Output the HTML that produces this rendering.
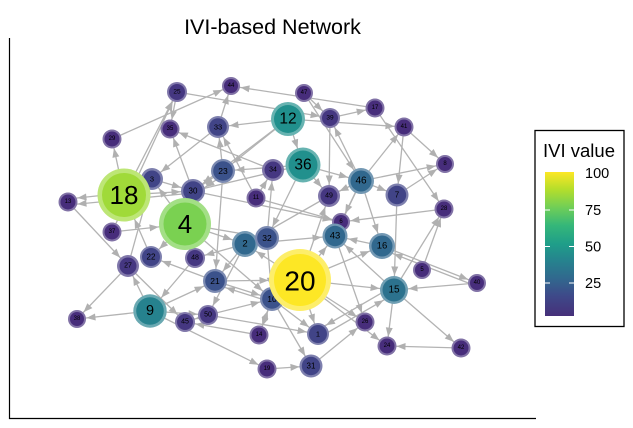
<!DOCTYPE html>
<html><head><meta charset="utf-8"><style>
html,body{margin:0;padding:0;background:#fff;}
svg{display:block;}
text{font-family:"Liberation Sans",Arial,sans-serif;}
.n text{text-anchor:middle;dominant-baseline:central;fill:#000;}
.e path{stroke:#b3b3b3;stroke-width:1.3;fill:none;}
.a9{marker-end:url(#m9)}.a10{marker-end:url(#m10)}.a11{marker-end:url(#m11)}.a12{marker-end:url(#m12)}.a13{marker-end:url(#m13)}.a14{marker-end:url(#m14)}.a17{marker-end:url(#m17)}.a26{marker-end:url(#m26)}.a31{marker-end:url(#m31)}
</style></head><body>
<svg width="633" height="428" viewBox="0 0 633 428" xmlns="http://www.w3.org/2000/svg">
<defs>
<marker id="m9" markerUnits="userSpaceOnUse" markerWidth="60" markerHeight="8" refX="18.5" refY="3.5" orient="auto" overflow="visible"><path d="M0 0L9 3.5L0 7z" fill="#b0b0b0"/></marker>
<marker id="m10" markerUnits="userSpaceOnUse" markerWidth="60" markerHeight="8" refX="19.5" refY="3.5" orient="auto" overflow="visible"><path d="M0 0L9 3.5L0 7z" fill="#b0b0b0"/></marker>
<marker id="m11" markerUnits="userSpaceOnUse" markerWidth="60" markerHeight="8" refX="20.5" refY="3.5" orient="auto" overflow="visible"><path d="M0 0L9 3.5L0 7z" fill="#b0b0b0"/></marker>
<marker id="m12" markerUnits="userSpaceOnUse" markerWidth="60" markerHeight="8" refX="21.5" refY="3.5" orient="auto" overflow="visible"><path d="M0 0L9 3.5L0 7z" fill="#b0b0b0"/></marker>
<marker id="m13" markerUnits="userSpaceOnUse" markerWidth="60" markerHeight="8" refX="22.5" refY="3.5" orient="auto" overflow="visible"><path d="M0 0L9 3.5L0 7z" fill="#b0b0b0"/></marker>
<marker id="m14" markerUnits="userSpaceOnUse" markerWidth="60" markerHeight="8" refX="23.5" refY="3.5" orient="auto" overflow="visible"><path d="M0 0L9 3.5L0 7z" fill="#b0b0b0"/></marker>
<marker id="m17" markerUnits="userSpaceOnUse" markerWidth="60" markerHeight="8" refX="26.5" refY="3.5" orient="auto" overflow="visible"><path d="M0 0L9 3.5L0 7z" fill="#b0b0b0"/></marker>
<marker id="m26" markerUnits="userSpaceOnUse" markerWidth="60" markerHeight="8" refX="35.5" refY="3.5" orient="auto" overflow="visible"><path d="M0 0L9 3.5L0 7z" fill="#b0b0b0"/></marker>
<marker id="m31" markerUnits="userSpaceOnUse" markerWidth="60" markerHeight="8" refX="40.5" refY="3.5" orient="auto" overflow="visible"><path d="M0 0L9 3.5L0 7z" fill="#b0b0b0"/></marker>
<linearGradient id="vir" x1="0" y1="0" x2="0" y2="1">
<stop offset="0" stop-color="#fde725"/>
<stop offset="0.12" stop-color="#b5de2b"/>
<stop offset="0.25" stop-color="#6ece58"/>
<stop offset="0.37" stop-color="#35b779"/>
<stop offset="0.5" stop-color="#1f9e89"/>
<stop offset="0.62" stop-color="#26828e"/>
<stop offset="0.74" stop-color="#31688e"/>
<stop offset="0.86" stop-color="#3e4989"/>
<stop offset="1" stop-color="#46307a"/>
</linearGradient>
</defs>

<text x="272.5" y="34" font-size="21.5" text-anchor="middle" fill="#000">IVI-based Network</text>
<path d="M9.5 38V418.5H536" fill="none" stroke="#000" stroke-width="1.2"/>

<g class="e">
<path class="a10" d="M124 195L177 92"/>
<path class="a10" d="M112 232L177 92"/>
<path class="a9" d="M177 92L170 129"/>
<path class="a10" d="M177 92L330 118"/>
<path class="a9" d="M112 139L231 86"/>
<path class="a9" d="M218 127L231 86"/>
<path class="a9" d="M375 108L231 86"/>
<path class="a9" d="M124 195L112 139"/>
<path class="a11" d="M218 127L152 179"/>
<path class="a9" d="M193 191L170 129"/>
<path class="a9" d="M273 170L170 129"/>
<path class="a9" d="M124 193L68 199"/>
<path class="a9" d="M193 193L68 205"/>
<path class="a12" d="M124 195L193 191"/>
<path class="a11" d="M288 119L218 127"/>
<path class="a12" d="M288 119L223 171"/>
<path class="a11" d="M223 171L218 127"/>
<path class="a17" d="M288 119L303 165"/>
<path class="a10" d="M304 93L330 118"/>
<path class="a9" d="M288 119L404 127"/>
<path class="a9" d="M330 118L375 108"/>
<path class="a10" d="M361 181L330 118"/>
<path class="a13" d="M304 93L361 181"/>
<path class="a11" d="M330 118L329 196"/>
<path class="a9" d="M361 181L404 127"/>
<path class="a11" d="M404 127L397 195"/>
<path class="a9" d="M404 127L445 164"/>
<path class="a9" d="M375 108L444 209"/>
<path class="a9" d="M361 181L445 164"/>
<path class="a9" d="M397 195L445 164"/>
<path class="a11" d="M361 181L397 195"/>
<path class="a11" d="M361 181L329 196"/>
<path class="a13" d="M303 165L361 181"/>
<path class="a9" d="M444 209L341 222"/>
<path class="a9" d="M361 181L341 222"/>
<path class="a13" d="M382 246L335 236"/>
<path class="a13" d="M394 290L335 236"/>
<path class="a13" d="M300 280L335 236"/>
<path class="a13" d="M300 280L382 246"/>
<path class="a9" d="M422 270L444 209"/>
<path class="a9" d="M382 246L477 283"/>
<path class="a13" d="M476 286L381 249"/>
<path class="a14" d="M477 283L394 290"/>
<path class="a9" d="M394 290L387 346"/>
<path class="a9" d="M394 290L461 348"/>
<path class="a9" d="M461 348L387 346"/>
<path class="a11" d="M392 287L316 331"/>
<path class="a14" d="M320 337L396 293"/>
<path class="a9" d="M300 280L365 322"/>
<path class="a9" d="M300 280L387 346"/>
<path class="a11" d="M300 280L318 334"/>
<path class="a9" d="M311 366L365 322"/>
<path class="a14" d="M300 280L394 290"/>
<path class="a9" d="M335 236L365 322"/>
<path class="a14" d="M397 195L394 290"/>
<path class="a9" d="M394 290L444 209"/>
<path class="a11" d="M267 369L311 366"/>
<path class="a11" d="M272 299L311 366"/>
<path class="a11" d="M68 202L128 266"/>
<path class="a26" d="M112 232L185 224"/>
<path class="a11" d="M185 224L151 257"/>
<path class="a9" d="M128 266L77 319"/>
<path class="a9" d="M150 311L77 319"/>
<path class="a11" d="M150 311L128 266"/>
<path class="a10" d="M128 266L185 322"/>
<path class="a12" d="M150 311L215 281"/>
<path class="a9" d="M150 311L267 369"/>
<path class="a17" d="M195 258L150 311"/>
<path class="a10" d="M208 315L185 322"/>
<path class="a10" d="M259 335L185 322"/>
<path class="a10" d="M245 244L208 315"/>
<path class="a11" d="M215 281L151 257"/>
<path class="a12" d="M215 281L272 299"/>
<path class="a12" d="M271 302L214 284"/>
<path class="a12" d="M223 171L215 281"/>
<path class="a10" d="M245 244L195 258"/>
<path class="a12" d="M267 238L272 299"/>
<path class="a12" d="M259 335L272 299"/>
<path class="a11" d="M208 315L318 334"/>
<path class="a12" d="M193 191L223 171"/>
<path class="a12" d="M225 174L195 194"/>
<path class="a11" d="M256 198L273 170"/>
<path class="a11" d="M267 238L273 170"/>
<path class="a12" d="M303 165L267 238"/>
<path class="a13" d="M329 196L245 244"/>
<path class="a12" d="M185 224L267 238"/>
<path class="a13" d="M300 280L245 244"/>
<path class="a17" d="M193 191L303 165"/>
<path class="a9" d="M256 198L341 222"/>
<path class="a12" d="M185 224L193 191"/>
<path class="a12" d="M152 179L193 191"/>
<path class="a11" d="M185 224L152 179"/>
<path class="a11" d="M256 198L218 127"/>
<path class="a12" d="M303 165L223 171"/>
<path class="a12" d="M288 119L193 191"/>
<path class="a13" d="M245 244L335 236"/>
<path class="a12" d="M300 280L272 299"/>
<path class="a11" d="M272 299L318 334"/>
<path class="a9" d="M272 299L259 335"/>
<path class="a11" d="M128 266L152 179"/>
<path class="a26" d="M151 257L124 195"/>
<path class="a13" d="M361 181L335 236"/>
<path class="a11" d="M303 165L329 196"/>
<path class="a9" d="M193 191L341 222"/>
<path class="a31" d="M215 281L300 280"/>
<path class="a10" d="M150 311L208 315"/>
<path class="a12" d="M208 315L272 299"/>
<path class="a13" d="M185 224L245 244"/>
<path class="a12" d="M245 244L215 281"/>
<path class="a12" d="M185 224L272 299"/>
<path class="a13" d="M361 181L382 246"/>
<path class="a11" d="M300 280L329 196"/>
</g>

<g class="n">
<circle cx="422" cy="270" r="9" fill="#8172a6"/><circle cx="422" cy="270" r="7" fill="#472d7b"/><text x="422" y="270" font-size="6">5</text>
<circle cx="341" cy="222" r="9" fill="#8172a6"/><circle cx="341" cy="222" r="7" fill="#472d7b"/><text x="341" y="222" font-size="6">6</text>
<circle cx="445" cy="164" r="9" fill="#8172a6"/><circle cx="445" cy="164" r="7" fill="#472d7b"/><text x="445" y="164" font-size="6">8</text>
<circle cx="256" cy="198" r="9.5" fill="#8172a6"/><circle cx="256" cy="198" r="7.5" fill="#472d7b"/><text x="256" y="198" font-size="6">11</text>
<circle cx="68" cy="202" r="9.5" fill="#8172a6"/><circle cx="68" cy="202" r="7.5" fill="#472d7b"/><text x="68" y="202" font-size="6">13</text>
<circle cx="259" cy="335" r="9.5" fill="#8172a6"/><circle cx="259" cy="335" r="7.5" fill="#472d7b"/><text x="259" y="335" font-size="6">14</text>
<circle cx="375" cy="108" r="9.5" fill="#8172a6"/><circle cx="375" cy="108" r="7.5" fill="#472d7b"/><text x="375" y="108" font-size="6">17</text>
<circle cx="267" cy="369" r="9.5" fill="#8172a6"/><circle cx="267" cy="369" r="7.5" fill="#472d7b"/><text x="267" y="369" font-size="6">19</text>
<circle cx="387" cy="346" r="9.5" fill="#8172a6"/><circle cx="387" cy="346" r="7.5" fill="#472d7b"/><text x="387" y="346" font-size="6">24</text>
<circle cx="365" cy="322" r="9.5" fill="#8172a6"/><circle cx="365" cy="322" r="7.5" fill="#472d7b"/><text x="365" y="322" font-size="6">26</text>
<circle cx="444" cy="209" r="9.5" fill="#8172a6"/><circle cx="444" cy="209" r="7.5" fill="#472d7b"/><text x="444" y="209" font-size="6">28</text>
<circle cx="112" cy="139" r="9.5" fill="#8172a6"/><circle cx="112" cy="139" r="7.5" fill="#472d7b"/><text x="112" y="139" font-size="6">29</text>
<circle cx="170" cy="129" r="9.5" fill="#8172a6"/><circle cx="170" cy="129" r="7.5" fill="#472d7b"/><text x="170" y="129" font-size="6">35</text>
<circle cx="112" cy="232" r="9.5" fill="#8172a6"/><circle cx="112" cy="232" r="7.5" fill="#472d7b"/><text x="112" y="232" font-size="6">37</text>
<circle cx="77" cy="319" r="9" fill="#8172a6"/><circle cx="77" cy="319" r="7" fill="#472d7b"/><text x="77" y="319" font-size="6">38</text>
<circle cx="477" cy="283" r="9" fill="#8172a6"/><circle cx="477" cy="283" r="7" fill="#472d7b"/><text x="477" y="283" font-size="6">40</text>
<circle cx="404" cy="127" r="9.5" fill="#8172a6"/><circle cx="404" cy="127" r="7.5" fill="#472d7b"/><text x="404" y="127" font-size="6">41</text>
<circle cx="461" cy="348" r="9.5" fill="#8172a6"/><circle cx="461" cy="348" r="7.5" fill="#472d7b"/><text x="461" y="348" font-size="6">42</text>
<circle cx="231" cy="86" r="9" fill="#8172a6"/><circle cx="231" cy="86" r="7" fill="#472d7b"/><text x="231" y="86" font-size="6">44</text>
<circle cx="304" cy="93" r="9" fill="#8172a6"/><circle cx="304" cy="93" r="7" fill="#472d7b"/><text x="304" y="93" font-size="6">47</text>
<circle cx="177" cy="92" r="10" fill="#8077aa"/><circle cx="177" cy="92" r="8" fill="#453781"/><text x="177" y="92" font-size="6.5">25</text>
<circle cx="330" cy="118" r="10" fill="#8077aa"/><circle cx="330" cy="118" r="8" fill="#453781"/><text x="330" y="118" font-size="6.5">39</text>
<circle cx="273" cy="170" r="11" fill="#8077aa"/><circle cx="273" cy="170" r="8.5" fill="#453781"/><text x="273" y="170" font-size="7">34</text>
<circle cx="185" cy="322" r="10" fill="#8077aa"/><circle cx="185" cy="322" r="8" fill="#453781"/><text x="185" y="322" font-size="7">45</text>
<circle cx="208" cy="315" r="10" fill="#8077aa"/><circle cx="208" cy="315" r="8" fill="#453781"/><text x="208" y="315" font-size="7">50</text>
<circle cx="329" cy="196" r="11" fill="#8077aa"/><circle cx="329" cy="196" r="8.5" fill="#453781"/><text x="329" y="196" font-size="7">49</text>
<circle cx="195" cy="258" r="10" fill="#8077aa"/><circle cx="195" cy="258" r="8" fill="#453781"/><text x="195" y="258" font-size="7">48</text>
<circle cx="128" cy="266" r="11" fill="#8077aa"/><circle cx="128" cy="266" r="8.5" fill="#453781"/><text x="128" y="266" font-size="7">27</text>
<circle cx="152" cy="179" r="11" fill="#7e80ae"/><circle cx="152" cy="179" r="8.5" fill="#414487"/><text x="152" y="179" font-size="7.5">3</text>
<circle cx="151" cy="257" r="11" fill="#7e80ae"/><circle cx="151" cy="257" r="9" fill="#414487"/><text x="151" y="257" font-size="8">22</text>
<circle cx="218" cy="127" r="11" fill="#7e80ae"/><circle cx="218" cy="127" r="8.8" fill="#414487"/><text x="218" y="127" font-size="7.5">33</text>
<circle cx="397" cy="195" r="11.5" fill="#7e80ae"/><circle cx="397" cy="195" r="9.2" fill="#414487"/><text x="397" y="195" font-size="8">7</text>
<circle cx="318" cy="334" r="11" fill="#7e80ae"/><circle cx="318" cy="334" r="9" fill="#414487"/><text x="318" y="334" font-size="7.5">1</text>
<circle cx="311" cy="366" r="11.5" fill="#7e80ae"/><circle cx="311" cy="366" r="9.2" fill="#414487"/><text x="311" y="366" font-size="8">31</text>
<circle cx="193" cy="191" r="12" fill="#7e80ae"/><circle cx="193" cy="191" r="9.8" fill="#414487"/><text x="193" y="191" font-size="8">30</text>
<circle cx="223" cy="171" r="12" fill="#7b8ab1"/><circle cx="223" cy="171" r="9.8" fill="#3b528b"/><text x="223" y="171" font-size="8.5">23</text>
<circle cx="215" cy="281" r="12" fill="#7b8ab1"/><circle cx="215" cy="281" r="9.8" fill="#3b528b"/><text x="215" y="281" font-size="8.5">21</text>
<circle cx="272" cy="299" r="12" fill="#7b8ab1"/><circle cx="272" cy="299" r="9.8" fill="#3b528b"/><text x="272" y="299" font-size="8.5">10</text>
<circle cx="245" cy="244" r="13" fill="#7398b3"/><circle cx="245" cy="244" r="10.5" fill="#31688e"/><text x="245" y="244" font-size="9.5">2</text>
<circle cx="267" cy="238" r="12" fill="#7b8ab1"/><circle cx="267" cy="238" r="9.8" fill="#3b528b"/><text x="267" y="238" font-size="8.5">32</text>
<circle cx="382" cy="246" r="13" fill="#7398b3"/><circle cx="382" cy="246" r="10.5" fill="#31688e"/><text x="382" y="246" font-size="9.5">16</text>
<circle cx="335" cy="236" r="12.5" fill="#7398b3"/><circle cx="335" cy="236" r="10.2" fill="#31688e"/><text x="335" y="236" font-size="9.5">43</text>
<circle cx="361" cy="181" r="13" fill="#7398b3"/><circle cx="361" cy="181" r="10.5" fill="#31688e"/><text x="361" y="181" font-size="10">46</text>
<circle cx="394" cy="290" r="14" fill="#709fb3"/><circle cx="394" cy="290" r="11.5" fill="#2c728e"/><text x="394" y="290" font-size="10">15</text>
<circle cx="150" cy="311" r="16.7" fill="#6aa9b2"/><circle cx="150" cy="311" r="13.8" fill="#26828e"/><text x="150" y="311" font-size="14.5">9</text>
<circle cx="288" cy="119" r="17" fill="#67b3b1"/><circle cx="288" cy="119" r="14" fill="#21908d"/><text x="288" y="119" font-size="15.5">12</text>
<circle cx="303" cy="165" r="17.5" fill="#67b3b1"/><circle cx="303" cy="165" r="14.5" fill="#21908d"/><text x="303" y="165" font-size="15.5">36</text>
<circle cx="185" cy="224" r="26" fill="#a3df86"/><circle cx="185" cy="224" r="21.5" fill="#7ad151"/><text x="185" y="224" font-size="26">4</text>
<circle cx="124" cy="195" r="26.5" fill="#bde676"/><circle cx="124" cy="195" r="22" fill="#a0da39"/><text x="124" y="195" font-size="26">18</text>
<circle cx="300" cy="280" r="31" fill="#fdee6a"/><circle cx="300" cy="280" r="26" fill="#fde725"/><text x="300" y="281" font-size="28">20</text>
</g>

<rect x="535" y="130.5" width="89" height="196" fill="#fff" stroke="#000" stroke-width="1.3"/>
<text x="543" y="157" font-size="18.5" fill="#000">IVI value</text>
<rect x="545" y="172" width="29" height="144" fill="url(#vir)"/>
<path d="M545 210H550M569 210H574M545 246.5H550M569 246.5H574M545 283H550M569 283H574" stroke="#fff" stroke-width="1"/>
<text x="585" y="178" font-size="14.5" fill="#000">100</text>
<text x="585" y="215" font-size="14.5" fill="#000">75</text>
<text x="585" y="251.5" font-size="14.5" fill="#000">50</text>
<text x="585" y="288" font-size="14.5" fill="#000">25</text>
</svg>
</body></html>
